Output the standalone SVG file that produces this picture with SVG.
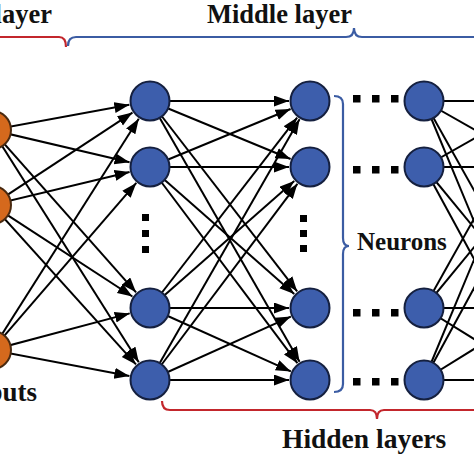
<svg xmlns="http://www.w3.org/2000/svg" width="474" height="474" viewBox="0 0 474 474">
<style>
.t{font-family:"Liberation Serif","Times New Roman",serif;font-weight:bold;fill:#111;}
.c line{stroke:#000;stroke-width:2;}
.a{marker-end:url(#ah);}
.hid{fill:#3d5eac;stroke:#15203f;stroke-width:2;}
.inp{fill:#d5691d;stroke:#4a2a10;stroke-width:2;}
.dot{fill:#000;}
.br{fill:none;stroke-width:2.2;}
.red{stroke:#c3262c;}
.blue{stroke:#3b5ca3;}
</style>
<defs>
<marker id="ah" markerUnits="userSpaceOnUse" markerWidth="17" markerHeight="13" refX="15" refY="5.5" orient="auto">
<path d="M0,0 L15,5.5 L0,11 z" fill="#000"/>
</marker>
</defs>
<rect width="474" height="474" fill="#fff"/>
<g id="connectors" class="c">
<line class="a" x1="-8" y1="130" x2="129.34" y2="104.79"/>
<line class="a" x1="-8" y1="130" x2="129.55" y2="162.21"/>
<line class="a" x1="-8" y1="130" x2="136.06" y2="292.29"/>
<line class="a" x1="-8" y1="130" x2="138.78" y2="362.25"/>
<line class="a" x1="-8" y1="205" x2="132.46" y2="112.55"/>
<line class="a" x1="-8" y1="205" x2="129.58" y2="171.91"/>
<line class="a" x1="-8" y1="205" x2="132.41" y2="296.53"/>
<line class="a" x1="-8" y1="205" x2="135.93" y2="364.41"/>
<line class="a" x1="-8" y1="350" x2="138.75" y2="118.73"/>
<line class="a" x1="-8" y1="350" x2="136.28" y2="182.90"/>
<line class="a" x1="-8" y1="350" x2="129.71" y2="313.39"/>
<line class="a" x1="-8" y1="350" x2="129.37" y2="376.08"/>
<line class="a" x1="150" y1="101" x2="289" y2="101"/>
<line class="a" x1="150" y1="101" x2="290.59" y2="158.99"/>
<line class="a" x1="150" y1="101" x2="297.16" y2="291.38"/>
<line class="a" x1="150" y1="101" x2="299.55" y2="361.78"/>
<line class="a" x1="150" y1="167" x2="290.59" y2="109.01"/>
<line class="a" x1="150" y1="167" x2="289" y2="167"/>
<line class="a" x1="150" y1="167" x2="294.24" y2="294.11"/>
<line class="a" x1="150" y1="167" x2="297.39" y2="363.21"/>
<line class="a" x1="150" y1="308" x2="297.16" y2="117.62"/>
<line class="a" x1="150" y1="308" x2="294.24" y2="180.89"/>
<line class="a" x1="150" y1="308" x2="289" y2="308"/>
<line class="a" x1="150" y1="308" x2="290.85" y2="371.38"/>
<line class="a" x1="150" y1="380" x2="299.55" y2="119.22"/>
<line class="a" x1="150" y1="380" x2="297.39" y2="183.79"/>
<line class="a" x1="150" y1="380" x2="290.85" y2="316.62"/>
<line class="a" x1="150" y1="380" x2="289" y2="380"/>
<line x1="424" y1="101" x2="540" y2="101"/>
<line x1="424" y1="101" x2="540" y2="167"/>
<line x1="424" y1="101" x2="540" y2="308"/>
<line x1="424" y1="101" x2="540" y2="380"/>
<line x1="424" y1="167" x2="540" y2="101"/>
<line x1="424" y1="167" x2="540" y2="167"/>
<line x1="424" y1="167" x2="540" y2="308"/>
<line x1="424" y1="167" x2="540" y2="380"/>
<line x1="424" y1="308" x2="540" y2="101"/>
<line x1="424" y1="308" x2="540" y2="167"/>
<line x1="424" y1="308" x2="540" y2="308"/>
<line x1="424" y1="308" x2="540" y2="380"/>
<line x1="424" y1="380" x2="540" y2="101"/>
<line x1="424" y1="380" x2="540" y2="167"/>
<line x1="424" y1="380" x2="540" y2="308"/>
<line x1="424" y1="380" x2="540" y2="380"/>
</g>
<g id="input-nodes">
<circle id="in1" class="inp" cx="-8" cy="130" r="19"/>
<circle id="in2" class="inp" cx="-8" cy="205" r="19"/>
<circle id="in3" class="inp" cx="-8" cy="350" r="19"/>
</g>
<g id="hidden1">
<circle id="h1a" class="hid" cx="150" cy="101" r="19.5"/>
<circle id="h1b" class="hid" cx="150" cy="167" r="19.5"/>
<circle id="h1c" class="hid" cx="150" cy="308" r="19.5"/>
<circle id="h1d" class="hid" cx="150" cy="380" r="19.5"/>
</g>
<g id="hidden2">
<circle id="h2a" class="hid" cx="310" cy="101" r="19.5"/>
<circle id="h2b" class="hid" cx="310" cy="167" r="19.5"/>
<circle id="h2c" class="hid" cx="310" cy="308" r="19.5"/>
<circle id="h2d" class="hid" cx="310" cy="380" r="19.5"/>
</g>
<g id="hiddenN">
<circle id="hna" class="hid" cx="424" cy="101" r="19.5"/>
<circle id="hnb" class="hid" cx="424" cy="167" r="19.5"/>
<circle id="hnc" class="hid" cx="424" cy="308" r="19.5"/>
<circle id="hnd" class="hid" cx="424" cy="380" r="19.5"/>
</g>
<g id="dots" class="dot">
<rect x="142" y="214" width="7" height="7"/>
<rect x="142" y="230" width="7" height="7"/>
<rect x="142" y="246" width="7" height="7"/>
<rect x="300" y="215" width="7" height="7"/>
<rect x="300" y="230" width="7" height="7"/>
<rect x="300" y="245" width="7" height="7"/>
<rect x="353" y="95" width="7.5" height="7.5"/>
<rect x="372" y="95" width="7.5" height="7.5"/>
<rect x="391" y="95" width="7.5" height="7.5"/>
<rect x="353" y="166" width="7.5" height="7.5"/>
<rect x="372" y="166" width="7.5" height="7.5"/>
<rect x="391" y="166" width="7.5" height="7.5"/>
<rect x="353" y="309" width="7.5" height="7.5"/>
<rect x="372" y="309" width="7.5" height="7.5"/>
<rect x="391" y="309" width="7.5" height="7.5"/>
<rect x="353" y="378" width="7.5" height="7.5"/>
<rect x="372" y="378" width="7.5" height="7.5"/>
<rect x="391" y="378" width="7.5" height="7.5"/>
</g>
<g id="braces">
<path class="br red" d="M-5 37 H59 Q66 37 66 47"/>
<path class="br blue" d="M68 46 Q68 37 76 37 H346 Q354 37 354 28 Q354 37 362 37 H480"/>
<path class="br blue" d="M334 96 Q343 96 343 104 V238 Q343 246 349 246 Q343 246 343 254 V384 Q343 392 334 392"/>
<path class="br red" d="M162 401 Q162 410 170 410 H370 Q377 410 377 419 Q377 410 384 410 H480"/>
</g>
<g id="labels">
<text class="t" x="52" y="23" font-size="26.5" text-anchor="end">Input layer</text>
<text class="t" x="207" y="23" font-size="26.5">Middle layer</text>
<text class="t" x="357" y="250" font-size="25">Neurons</text>
<text class="t" x="282" y="448" font-size="27.5">Hidden layers</text>
<text class="t" x="37" y="401" font-size="27" text-anchor="end">Inputs</text>
</g>
</svg>
